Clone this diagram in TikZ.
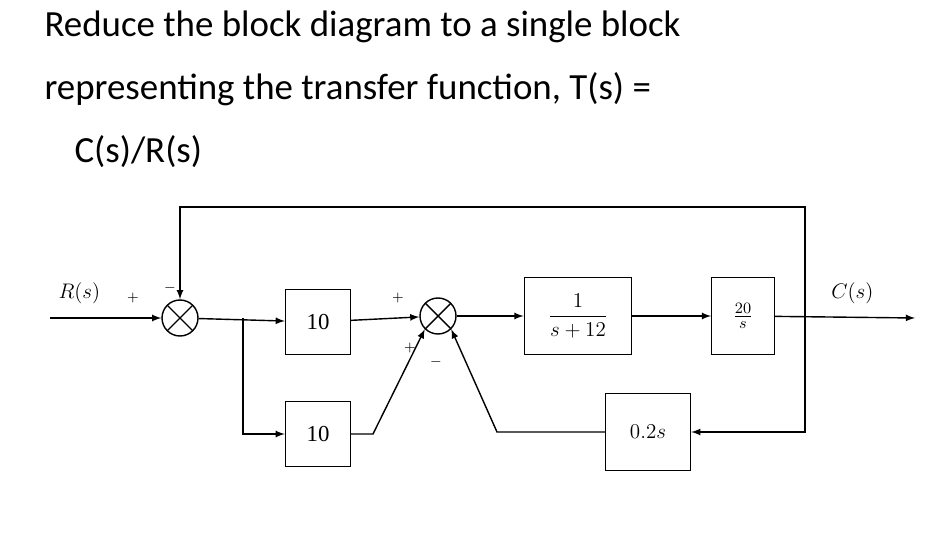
\documentclass[tikz,border=0pt]{standalone}
\usepackage{fontspec}
\setmainfont{Liberation Serif}
\newfontfamily\titlefont{Carlito}
\usetikzlibrary{positioning, arrows}

\begin{document}
\begin{tikzpicture}[x=0.02cm,y=-0.02cm,>=latex,thick,
  block/.style={draw,minimum width=1.3cm,minimum height=1.3cm,font=\fontsize{13}{15}\selectfont},
  summer/.style={draw,circle,minimum size=0.72cm,inner sep=0pt,path picture={
      \draw (path picture bounding box.north west) -- (path picture bounding box.south east)
            (path picture bounding box.south west) -- (path picture bounding box.north east);}},
  sgn/.style={font=\footnotesize,inner sep=1pt},
  lbl/.style={font=\fontsize{13}{15}\selectfont}]
  \useasboundingbox (0,0) rectangle (942,533);
  % title
  \node[anchor=north west,align=left,font=\titlefont\fontsize{21}{36}\selectfont] (title) at (38,4)
    {Reduce the block diagram to a single block\\representing the transfer function, T(s) =\\\hspace*{0.6cm}C(s)/R(s)};
  % blocks
  \node[summer] (s_1) at (180,318) {};
  \node[block] (g_1) at (318,322) {10};
  \node[block] (g_2) at (318,434) {10};
  \node[summer] (s_2) at (438,316) {};
  \node[block,minimum width=2.15cm,minimum height=1.55cm] (g_3) at (578,316) {$\displaystyle\frac{1}{s+12}$};
  \node[block,minimum width=1.25cm,minimum height=1.55cm] (g_4) at (743,316) {$\frac{20}{s}$};
  \node[block,minimum width=1.7cm,minimum height=1.55cm] (h_1) at (648,432) {$0.2s$};
  % helpers
  \coordinate (in) at (50,318);
  \coordinate (out) at (915,318);
  \coordinate (b_1) at (243,318);
  \coordinate (b_2) at (805,318);
  \coordinate (k_1) at (373,434);
  \coordinate (k_2) at (497,432);
  % labels
  \node[lbl,anchor=south west] (r) at (52,310) {$R(s)$};
  \node[lbl,anchor=south east] (c) at (880,310) {$C(s)$};
  \node[sgn] (p_1) at (133,298) {$+$};
  \node[sgn] (m_1) at (170,288) {$-$};
  \node[sgn] (p_2) at (398,298) {$+$};
  \node[sgn] (p_3) at (410,348) {$+$};
  \node[sgn] (m_2) at (436,362) {$-$};
  % connectors
  \draw[->] (in) -- (s_1);
  \draw[->] (s_1) -- (g_1);
  \draw[->] (b_1) |- (g_2);
  \draw[->] (g_1) -- (s_2);
  \draw[->] (s_2) -- (g_3);
  \draw[->] (g_3) -- (g_4);
  \draw[->] (g_4) -- (out);
  \draw[->] (b_2) |- (h_1);
  \draw[->] (b_2) |- (180,207) -- (s_1);
  \draw[->] (g_2) -- (k_1) -- (s_2.south west);
  \draw[->] (h_1) -- (k_2) -- (s_2.south east);
\end{tikzpicture}
\end{document}
